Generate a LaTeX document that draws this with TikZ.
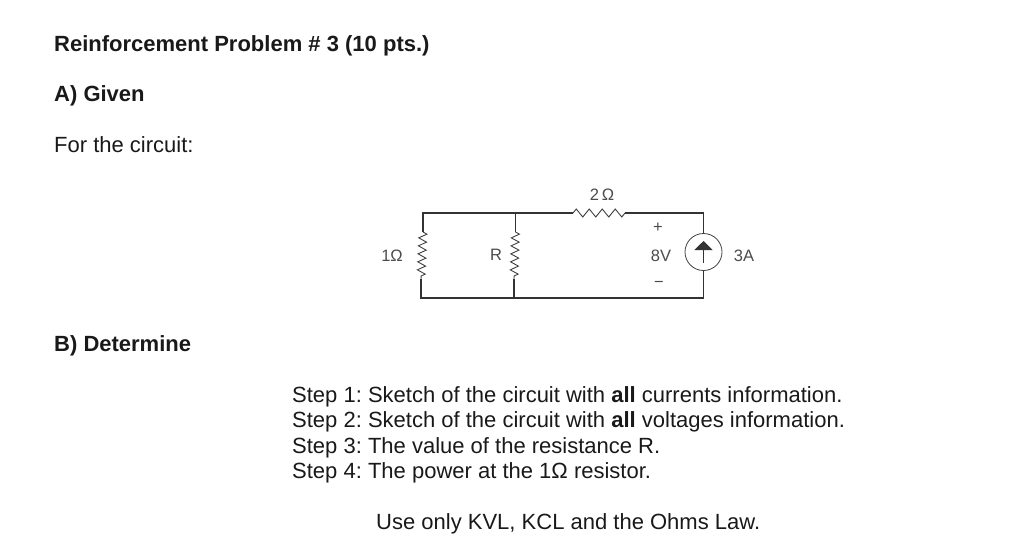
\documentclass[tikz,border=0pt]{standalone}
\usepackage{fontspec}
\setmainfont{Liberation Sans}
\usetikzlibrary{decorations.pathmorphing, arrows.meta}
\frenchspacing
\tikzstyle{whhead} = [anchor=base west, inner sep=0pt, font=\fontsize{22}{24}\selectfont\bfseries, text=black!90]
\tikzstyle{whtext} = [anchor=base west, inner sep=0pt, font=\fontsize{22}{24}\selectfont, text=black!90]
\tikzstyle{whlabel} = [inner sep=0pt, font=\fontsize{16.5}{18}\selectfont, text=black!70]
\tikzstyle{whwire} = [line width=1.4pt, draw=black!80]
\tikzstyle{whres} = [line width=0.9pt, draw=black!75, decorate,
decoration={zigzag, amplitude=4pt, segment length=8pt}]
\tikzstyle{whsrc} = [circle, minimum size=37pt, inner sep=0pt, line width=0.8pt, draw=black!75]

\begin{document}
\begin{tikzpicture}[x=1pt, y=-1pt]
		\useasboundingbox (0,0) rectangle (1024,539);

		\node (title) [whhead] at (54,51) {Reinforcement Problem \# 3 (10 pts.)};
		\node (given) [whhead] at (54,101) {A) Given};
		\node (forc) [whtext] at (54,152) {For the circuit:};
		\node (deter) [whhead] at (54,351) {B) Determine};
		\node (step1) [whtext] at (292,402) {Step 1: Sketch of the circuit with \textbf{all} currents information.};
		\node (step2) [whtext] at (292,427) {Step 2: Sketch of the circuit with \textbf{all} voltages information.};
		\node (step3) [whtext] at (292,453) {Step 3: The value of the resistance R.};
		\node (step4) [whtext] at (292,478) {Step 4: The power at the 1Ω resistor.};
		\node (only) [whtext] at (376,529) {Use only KVL, KCL and the Ohms Law.};

		\coordinate (tl) at (423,213);
		\coordinate (tm) at (515.5,213);
		\coordinate (tr) at (703.5,213);
		\coordinate (bl) at (421,298);
		\coordinate (bm) at (514,298);
		\coordinate (br) at (703.5,298);
		\coordinate (r1a) at (423,232);
		\coordinate (r1b) at (421,279);
		\coordinate (rra) at (515.5,232);
		\coordinate (rrb) at (514,279);
		\coordinate (r2a) at (573,213);
		\coordinate (r2b) at (625,213);
		\node (src) [whsrc] at (703.5,252) {};
		\coordinate (arrtip) at (703.5,241);
		\coordinate (arrtail) at (703.5,263);

		\draw [whwire](r1a) -- (tl) -- (tm) -- (r2a);
		\draw [whwire](r2b) -- (tr) -- (src);
		\draw [whwire](tm) -- (rra);
		\draw [whwire](r1b) -- (bl) -- (bm) -- (br) -- (src);
		\draw [whwire](bm) -- (rrb);
		\draw [whres](r1a) -- (r1b);
		\draw [whres](rra) -- (rrb);
		\draw [whres, decoration={segment length=13pt}](r2a) -- (r2b);
		\draw [line width=1pt, draw=black!80, -{Triangle[length=9pt, width=18pt]}](arrtail) -- (arrtip);

		\node (lab1) [whlabel] at (392,256) {1Ω};
		\node (labr) [whlabel] at (496,255) {R};
		\node (lab2) [whlabel] at (602,195) {2\,Ω};
		\node (labp) [whlabel] at (658,228) {+};
		\node (lab8) [whlabel] at (661,256) {8V};
		\node (labm) [whlabel] at (659,284) {−};
		\node (lab3) [whlabel] at (744,256) {3A};
	\end{tikzpicture}
\end{document}
